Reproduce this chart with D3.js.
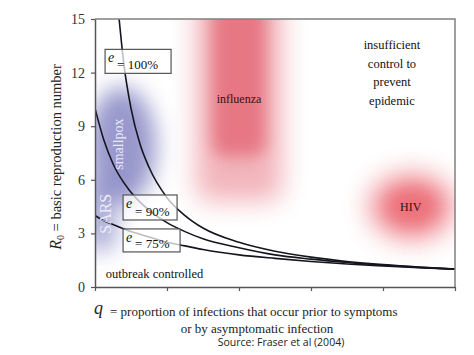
<!DOCTYPE html>
<html><head><meta charset="utf-8">
<script src="https://cdn.jsdelivr.net/npm/d3@7"></script>
<style>
html,body{margin:0;padding:0;background:#fff;}
svg{display:block;}
</style></head>
<body>
<svg id="chart" width="474" height="355"></svg>
<script>
// ---- data ----
const yTicks = [0, 3, 6, 9, 12, 15];
const xTicks = [0, 0.2, 0.4, 0.6, 0.8, 1.0];

const curve100Q  = [0.067, 0.08, 0.1, 0.125, 0.15, 0.2, 0.25, 0.3, 0.4, 0.5, 0.6, 0.7, 0.8, 0.9, 1.0];
const curve100R0 = [15, 12.5, 10, 8, 6.7, 5, 4, 3.3, 2.5, 2, 1.67, 1.43, 1.25, 1.11, 1.0];
const curve90Q   = [0, 0.025, 0.05, 0.1, 0.15, 0.2, 0.25, 0.3, 0.4, 0.5, 0.6, 0.7, 0.8, 0.9, 1.0];
const curve90R0  = [10, 8.2, 6.9, 5.3, 4.3, 3.6, 3.1, 2.7, 2.2, 1.8, 1.56, 1.37, 1.22, 1.1, 1.0];
const curve75Q   = [0, 0.025, 0.05, 0.1, 0.15, 0.2, 0.25, 0.3, 0.4, 0.5, 0.6, 0.7, 0.8, 0.9, 1.0];
const curve75R0  = [4, 3.7, 3.5, 3.1, 2.8, 2.5, 2.3, 2.1, 1.8, 1.6, 1.43, 1.29, 1.18, 1.08, 1.0];
const curveLabels = ["= 100%", "= 90%", "= 75%"];
// label box anchor (q, R0 at top-left)
const labelQ  = [0.028, 0.078, 0.078];
const labelR0 = [13.3, 5.15, 3.25];

// disease regions: name, q range, R0 range
const diseaseNames = ["smallpox", "SARS", "influenza", "HIV"];
const diseaseQ0  = [-0.02, -0.03, 0.28, 0.76];
const diseaseQ1  = [0.17, 0.06, 0.52, 1.0];
const diseaseR00 = [4.6, 2.0, 4.8, 2.6];
const diseaseR01 = [11.2, 6.2, 17, 6.4];
const diseaseColor = ["#7676bc", "#7676bc", "#e0505f", "#e8505c"];

const regionText = ["insufficient", "control to", "prevent", "epidemic"];

// ---- drawing ----
const svg = d3.select("#chart");
const x = d3.scaleLinear().domain([0, 1]).range([95, 455]);
const y = d3.scaleLinear().domain([0, 15]).range([287, 19]);
const serif = "Liberation Serif, DejaVu Serif, serif";

const defs = svg.append("defs");
defs.append("clipPath").attr("id", "plotclip").append("rect")
  .attr("x", x(0)).attr("y", y(15)).attr("width", x(1) - x(0)).attr("height", y(0) - y(15));
[["blur1", 11], ["blur2", 13], ["blur3", 8]].forEach(([id, s]) =>
  defs.append("filter").attr("id", id).attr("x", "-60%").attr("y", "-60%").attr("width", "220%").attr("height", "220%")
    .append("feGaussianBlur").attr("stdDeviation", s));

const plot = svg.append("g").attr("clip-path", "url(#plotclip)");

const blobs = diseaseNames.map((n, i) => ({name: n, q0: diseaseQ0[i], q1: diseaseQ1[i], r0: diseaseR00[i], r1: diseaseR01[i], c: diseaseColor[i]}));
function ell(b, op, f, shrink) {
  plot.append("ellipse")
    .attr("cx", x((b.q0 + b.q1) / 2)).attr("cy", y((b.r0 + b.r1) / 2))
    .attr("rx", (x(b.q1) - x(b.q0)) / 2 * shrink).attr("ry", (y(b.r0) - y(b.r1)) / 2 * shrink)
    .attr("fill", b.c).attr("opacity", op).attr("filter", `url(#${f})`);
}
function box(b, op, f, inset, insetB) {
  plot.append("rect")
    .attr("x", x(b.q0) + inset).attr("y", y(b.r1) + inset)
    .attr("width", x(b.q1) - x(b.q0) - 2 * inset).attr("height", y(b.r0) - y(b.r1) - inset - insetB)
    .attr("rx", 14).attr("fill", b.c).attr("opacity", op).attr("filter", `url(#${f})`);
}
// smallpox + SARS
ell(blobs[0], 0.75, "blur1", 1);
box(blobs[1], 0.6, "blur1", 0, 0);
// influenza
box(blobs[2], 0.42, "blur2", 0, 0);
box(blobs[2], 0.6, "blur3", 16, 45);
// HIV
ell(blobs[3], 0.6, "blur2", 1);
ell(blobs[3], 0.5, "blur3", 0.6);

// curves
const line = d3.line().x(d => x(d[0])).y(d => y(d[1])).curve(d3.curveMonotoneX);
const curves = [
  d3.zip(curve100Q, curve100R0),
  d3.zip(curve90Q, curve90R0),
  d3.zip(curve75Q, curve75R0)
];
plot.selectAll("path.curve").data(curves).enter().append("path")
  .attr("class", "curve").attr("d", line)
  .attr("fill", "none").attr("stroke", "#15151f").attr("stroke-width", 1.6);

// disease labels
svg.append("text").attr("transform", `translate(${x(0.078)},${y(8)}) rotate(-90)`)
  .attr("text-anchor", "middle").attr("font-family", serif).attr("font-size", 14)
  .attr("fill", "#e8e8f6").text(diseaseNames[0]);
svg.append("text").attr("transform", `translate(${x(0.044)},${y(4.1)}) rotate(-90)`)
  .attr("text-anchor", "middle").attr("font-family", serif).attr("font-size", 16)
  .attr("fill", "#ececf8").text(diseaseNames[1]);
svg.append("text").attr("x", x(0.4)).attr("y", y(10.3)).attr("text-anchor", "middle")
  .attr("font-family", serif).attr("font-size", 12).attr("fill", "#3a1010").text(diseaseNames[2]);
svg.append("text").attr("x", x(0.877)).attr("y", y(4.25)).attr("text-anchor", "middle")
  .attr("font-family", serif).attr("font-size", 12).attr("fill", "#3a1010").text(diseaseNames[3]);

// region texts
svg.append("text").attr("x", x(0.03)).attr("y", y(0.5))
  .attr("font-family", serif).attr("font-size", 12.5).attr("fill", "#111").text("outbreak controlled");
const rt = svg.append("text").attr("font-family", serif).attr("font-size", 12.5).attr("fill", "#111").attr("text-anchor", "middle");
regionText.forEach((t, i) => rt.append("tspan").attr("x", x(0.825)).attr("y", y(13.3) + i * 18.5).text(t));

// label boxes
const boxW = [66, 54, 57], boxH = [24, 25, 23];
curveLabels.forEach((t, i) => {
  const bx = x(labelQ[i]), by = y(labelR0[i]);
  svg.append("rect").attr("x", bx).attr("y", by).attr("width", boxW[i]).attr("height", boxH[i])
    .attr("fill", "#fff").attr("fill-opacity", 0.72).attr("stroke", "#555").attr("stroke-width", 1.2);
  svg.append("text").attr("x", bx + 3).attr("y", by + 13).attr("font-family", serif).attr("font-style", "italic")
    .attr("font-size", 14).attr("fill", "#111").text("e");
  svg.append("text").attr("x", bx + 12).attr("y", by + boxH[i] - 4).attr("font-family", serif)
    .attr("font-size", 13).attr("fill", "#111").text(t);
});

// frame (top / right)
svg.append("path").attr("d", `M${x(0)},${y(15)}H${x(1)}V${y(0)}`).attr("fill", "none")
  .attr("stroke", "#808080").attr("stroke-width", 1.5);

// axes
const yAxis = svg.append("g").attr("transform", `translate(${x(0)},0)`)
  .call(d3.axisLeft(y).tickValues(yTicks).tickSize(4).tickSizeOuter(0).tickPadding(6).tickFormat(d3.format("d")));
yAxis.select(".domain").attr("stroke", "#555").attr("stroke-width", 1.5);
yAxis.selectAll(".tick line").attr("stroke", "#555").attr("stroke-width", 1.2);
yAxis.selectAll(".tick text").attr("font-family", serif).attr("font-size", 14).attr("fill", "#333");

const xAxis = svg.append("g").attr("transform", `translate(0,${y(0)})`)
  .call(d3.axisBottom(x).tickValues(xTicks).tickSize(4).tickSizeOuter(0).tickFormat(""));
xAxis.select(".domain").attr("stroke", "#555").attr("stroke-width", 1.5);
xAxis.selectAll(".tick line").attr("stroke", "#555").attr("stroke-width", 1.2);

// y axis title
const yt = svg.append("text").attr("transform", "translate(61,157) rotate(-90)")
  .attr("text-anchor", "middle").attr("font-family", serif).attr("font-size", 14.5).attr("fill", "#222");
yt.append("tspan").attr("font-style", "italic").attr("font-size", 16).text("R");
yt.append("tspan").attr("font-size", 10).attr("dy", 3).text("0");
yt.append("tspan").attr("dy", -3).text(" = basic reproduction number");

// x axis title
svg.append("text").attr("x", 94).attr("y", 314).attr("font-family", serif).attr("font-style", "italic")
  .attr("font-size", 18).attr("fill", "#222").text("q");
svg.append("text").attr("x", 110).attr("y", 316).attr("font-family", serif).attr("font-size", 13)
  .attr("fill", "#222").text("= proportion of infections that occur prior to symptoms");
svg.append("text").attr("x", 257).attr("y", 333).attr("text-anchor", "middle").attr("font-family", serif)
  .attr("font-size", 13).attr("fill", "#222").text("or by asymptomatic infection");
svg.append("text").attr("x", 281).attr("y", 346).attr("text-anchor", "middle")
  .attr("font-family", "Open Sans, Noto Sans, sans-serif").attr("font-size", 10.5).attr("fill", "#222")
  .text("Source: Fraser et al (2004)");
</script>
</body></html>
